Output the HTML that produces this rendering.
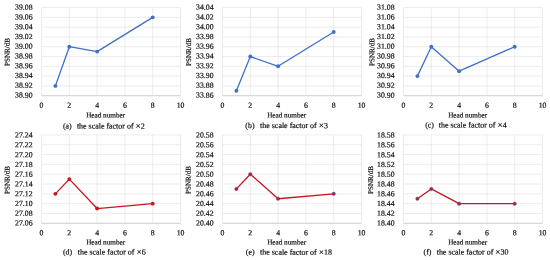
<!DOCTYPE html>
<html><head><meta charset="utf-8"><title>PSNR vs head number</title>
<style>html,body{margin:0;padding:0;background:#fff}svg{display:block}text{text-rendering:geometricPrecision;font-family:"Liberation Serif",serif;fill:#111;stroke:#111;stroke-width:0.2px}</style></head>
<body>
<svg width="550" height="260" viewBox="0 0 550 260">
<rect width="550" height="260" fill="#fff"/>
<g>
<line x1="41.50" y1="7.55" x2="180.50" y2="7.55" stroke="#DCDCDC" stroke-width="0.55"/>
<line x1="41.50" y1="17.34" x2="180.50" y2="17.34" stroke="#DCDCDC" stroke-width="0.55"/>
<line x1="41.50" y1="27.14" x2="180.50" y2="27.14" stroke="#DCDCDC" stroke-width="0.55"/>
<line x1="41.50" y1="36.93" x2="180.50" y2="36.93" stroke="#DCDCDC" stroke-width="0.55"/>
<line x1="41.50" y1="46.73" x2="180.50" y2="46.73" stroke="#DCDCDC" stroke-width="0.55"/>
<line x1="41.50" y1="56.52" x2="180.50" y2="56.52" stroke="#DCDCDC" stroke-width="0.55"/>
<line x1="41.50" y1="66.32" x2="180.50" y2="66.32" stroke="#DCDCDC" stroke-width="0.55"/>
<line x1="41.50" y1="76.11" x2="180.50" y2="76.11" stroke="#DCDCDC" stroke-width="0.55"/>
<line x1="41.50" y1="85.91" x2="180.50" y2="85.91" stroke="#DCDCDC" stroke-width="0.55"/>
<line x1="41.50" y1="95.70" x2="180.50" y2="95.70" stroke="#DCDCDC" stroke-width="0.55"/>
<line x1="41.50" y1="95.70" x2="180.50" y2="95.70" stroke="#CFCFCF" stroke-width="0.9"/>
<line x1="41.50" y1="7.55" x2="41.50" y2="95.70" stroke="#DCDCDC" stroke-width="0.55"/>
<line x1="69.30" y1="7.55" x2="69.30" y2="95.70" stroke="#DCDCDC" stroke-width="0.55"/>
<line x1="97.10" y1="7.55" x2="97.10" y2="95.70" stroke="#DCDCDC" stroke-width="0.55"/>
<line x1="124.90" y1="7.55" x2="124.90" y2="95.70" stroke="#DCDCDC" stroke-width="0.55"/>
<line x1="152.70" y1="7.55" x2="152.70" y2="95.70" stroke="#DCDCDC" stroke-width="0.55"/>
<line x1="180.50" y1="7.55" x2="180.50" y2="95.70" stroke="#DCDCDC" stroke-width="0.55"/>
<text transform="matrix(1,0.002,0,1,32.50,9.65)" font-size="7.75" text-anchor="end">39.08</text>
<text transform="matrix(1,0.002,0,1,32.50,19.43)" font-size="7.75" text-anchor="end">39.06</text>
<text transform="matrix(1,0.002,0,1,32.50,29.21)" font-size="7.75" text-anchor="end">39.04</text>
<text transform="matrix(1,0.002,0,1,32.50,38.98)" font-size="7.75" text-anchor="end">39.02</text>
<text transform="matrix(1,0.002,0,1,32.50,48.76)" font-size="7.75" text-anchor="end">39.00</text>
<text transform="matrix(1,0.002,0,1,32.50,58.54)" font-size="7.75" text-anchor="end">38.98</text>
<text transform="matrix(1,0.002,0,1,32.50,68.32)" font-size="7.75" text-anchor="end">38.96</text>
<text transform="matrix(1,0.002,0,1,32.50,78.10)" font-size="7.75" text-anchor="end">38.94</text>
<text transform="matrix(1,0.002,0,1,32.50,87.87)" font-size="7.75" text-anchor="end">38.92</text>
<text transform="matrix(1,0.002,0,1,32.50,97.65)" font-size="7.75" text-anchor="end">38.90</text>
<text transform="matrix(1,0.002,0,1,41.50,107.70)" font-size="7.75" text-anchor="middle">0</text>
<text transform="matrix(1,0.002,0,1,69.30,107.70)" font-size="7.75" text-anchor="middle">2</text>
<text transform="matrix(1,0.002,0,1,97.10,107.70)" font-size="7.75" text-anchor="middle">4</text>
<text transform="matrix(1,0.002,0,1,124.90,107.70)" font-size="7.75" text-anchor="middle">6</text>
<text transform="matrix(1,0.002,0,1,152.70,107.70)" font-size="7.75" text-anchor="middle">8</text>
<text transform="matrix(1,0.002,0,1,180.50,107.70)" font-size="7.75" text-anchor="middle">10</text>
<text transform="matrix(1,0.002,0,1,105.60,117.50)" font-size="7.2" text-anchor="middle">Head number</text>
<text transform="matrix(1,0.002,0,1,62.90,128.50)" font-size="7.95">(a)</text>
<text transform="matrix(1,0.002,0,1,76.90,128.50)" font-size="7.95">the scale factor of <tspan font-size="9.3" dy="0.45">×</tspan><tspan dy="-0.45">2</tspan></text>
<text transform="matrix(0.002,-1,1,0,9.60,51.90)" font-size="7.1" text-anchor="middle">PSNR/dB</text>
<polyline fill="none" stroke="#4070C6" stroke-width="1.3" stroke-linejoin="round" points="55.40,85.91 69.30,46.73 97.10,51.62 152.70,17.34"/>
<circle cx="55.40" cy="85.91" r="1.95" fill="#4070C6"/>
<circle cx="69.30" cy="46.73" r="1.95" fill="#4070C6"/>
<circle cx="97.10" cy="51.62" r="1.95" fill="#4070C6"/>
<circle cx="152.70" cy="17.34" r="1.95" fill="#4070C6"/>
</g>
<g>
<line x1="222.50" y1="7.55" x2="361.50" y2="7.55" stroke="#DCDCDC" stroke-width="0.55"/>
<line x1="222.50" y1="17.34" x2="361.50" y2="17.34" stroke="#DCDCDC" stroke-width="0.55"/>
<line x1="222.50" y1="27.14" x2="361.50" y2="27.14" stroke="#DCDCDC" stroke-width="0.55"/>
<line x1="222.50" y1="36.93" x2="361.50" y2="36.93" stroke="#DCDCDC" stroke-width="0.55"/>
<line x1="222.50" y1="46.73" x2="361.50" y2="46.73" stroke="#DCDCDC" stroke-width="0.55"/>
<line x1="222.50" y1="56.52" x2="361.50" y2="56.52" stroke="#DCDCDC" stroke-width="0.55"/>
<line x1="222.50" y1="66.32" x2="361.50" y2="66.32" stroke="#DCDCDC" stroke-width="0.55"/>
<line x1="222.50" y1="76.11" x2="361.50" y2="76.11" stroke="#DCDCDC" stroke-width="0.55"/>
<line x1="222.50" y1="85.91" x2="361.50" y2="85.91" stroke="#DCDCDC" stroke-width="0.55"/>
<line x1="222.50" y1="95.70" x2="361.50" y2="95.70" stroke="#DCDCDC" stroke-width="0.55"/>
<line x1="222.50" y1="95.70" x2="361.50" y2="95.70" stroke="#CFCFCF" stroke-width="0.9"/>
<line x1="222.50" y1="7.55" x2="222.50" y2="95.70" stroke="#DCDCDC" stroke-width="0.55"/>
<line x1="250.30" y1="7.55" x2="250.30" y2="95.70" stroke="#DCDCDC" stroke-width="0.55"/>
<line x1="278.10" y1="7.55" x2="278.10" y2="95.70" stroke="#DCDCDC" stroke-width="0.55"/>
<line x1="305.90" y1="7.55" x2="305.90" y2="95.70" stroke="#DCDCDC" stroke-width="0.55"/>
<line x1="333.70" y1="7.55" x2="333.70" y2="95.70" stroke="#DCDCDC" stroke-width="0.55"/>
<line x1="361.50" y1="7.55" x2="361.50" y2="95.70" stroke="#DCDCDC" stroke-width="0.55"/>
<text transform="matrix(1,0.002,0,1,213.50,9.65)" font-size="7.75" text-anchor="end">34.04</text>
<text transform="matrix(1,0.002,0,1,213.50,19.43)" font-size="7.75" text-anchor="end">34.02</text>
<text transform="matrix(1,0.002,0,1,213.50,29.21)" font-size="7.75" text-anchor="end">34.00</text>
<text transform="matrix(1,0.002,0,1,213.50,38.98)" font-size="7.75" text-anchor="end">33.98</text>
<text transform="matrix(1,0.002,0,1,213.50,48.76)" font-size="7.75" text-anchor="end">33.96</text>
<text transform="matrix(1,0.002,0,1,213.50,58.54)" font-size="7.75" text-anchor="end">33.94</text>
<text transform="matrix(1,0.002,0,1,213.50,68.32)" font-size="7.75" text-anchor="end">33.92</text>
<text transform="matrix(1,0.002,0,1,213.50,78.10)" font-size="7.75" text-anchor="end">33.90</text>
<text transform="matrix(1,0.002,0,1,213.50,87.87)" font-size="7.75" text-anchor="end">33.88</text>
<text transform="matrix(1,0.002,0,1,213.50,97.65)" font-size="7.75" text-anchor="end">33.86</text>
<text transform="matrix(1,0.002,0,1,222.50,107.70)" font-size="7.75" text-anchor="middle">0</text>
<text transform="matrix(1,0.002,0,1,250.30,107.70)" font-size="7.75" text-anchor="middle">2</text>
<text transform="matrix(1,0.002,0,1,278.10,107.70)" font-size="7.75" text-anchor="middle">4</text>
<text transform="matrix(1,0.002,0,1,305.90,107.70)" font-size="7.75" text-anchor="middle">6</text>
<text transform="matrix(1,0.002,0,1,333.70,107.70)" font-size="7.75" text-anchor="middle">8</text>
<text transform="matrix(1,0.002,0,1,361.50,107.70)" font-size="7.75" text-anchor="middle">10</text>
<text transform="matrix(1,0.002,0,1,286.60,117.50)" font-size="7.2" text-anchor="middle">Head number</text>
<text transform="matrix(1,0.002,0,1,245.30,128.00)" font-size="7.95">(b)</text>
<text transform="matrix(1,0.002,0,1,260.10,128.00)" font-size="7.95">the scale factor of <tspan font-size="9.3" dy="0.45">×</tspan><tspan dy="-0.45">3</tspan></text>
<text transform="matrix(0.002,-1,1,0,191.00,51.90)" font-size="7.1" text-anchor="middle">PSNR/dB</text>
<polyline fill="none" stroke="#4070C6" stroke-width="1.3" stroke-linejoin="round" points="236.40,90.80 250.30,56.52 278.10,66.32 333.70,32.04"/>
<circle cx="236.40" cy="90.80" r="1.95" fill="#4070C6"/>
<circle cx="250.30" cy="56.52" r="1.95" fill="#4070C6"/>
<circle cx="278.10" cy="66.32" r="1.95" fill="#4070C6"/>
<circle cx="333.70" cy="32.04" r="1.95" fill="#4070C6"/>
</g>
<g>
<line x1="403.50" y1="7.55" x2="542.50" y2="7.55" stroke="#DCDCDC" stroke-width="0.55"/>
<line x1="403.50" y1="17.34" x2="542.50" y2="17.34" stroke="#DCDCDC" stroke-width="0.55"/>
<line x1="403.50" y1="27.14" x2="542.50" y2="27.14" stroke="#DCDCDC" stroke-width="0.55"/>
<line x1="403.50" y1="36.93" x2="542.50" y2="36.93" stroke="#DCDCDC" stroke-width="0.55"/>
<line x1="403.50" y1="46.73" x2="542.50" y2="46.73" stroke="#DCDCDC" stroke-width="0.55"/>
<line x1="403.50" y1="56.52" x2="542.50" y2="56.52" stroke="#DCDCDC" stroke-width="0.55"/>
<line x1="403.50" y1="66.32" x2="542.50" y2="66.32" stroke="#DCDCDC" stroke-width="0.55"/>
<line x1="403.50" y1="76.11" x2="542.50" y2="76.11" stroke="#DCDCDC" stroke-width="0.55"/>
<line x1="403.50" y1="85.91" x2="542.50" y2="85.91" stroke="#DCDCDC" stroke-width="0.55"/>
<line x1="403.50" y1="95.70" x2="542.50" y2="95.70" stroke="#DCDCDC" stroke-width="0.55"/>
<line x1="403.50" y1="95.70" x2="542.50" y2="95.70" stroke="#CFCFCF" stroke-width="0.9"/>
<line x1="403.50" y1="7.55" x2="403.50" y2="95.70" stroke="#DCDCDC" stroke-width="0.55"/>
<line x1="431.30" y1="7.55" x2="431.30" y2="95.70" stroke="#DCDCDC" stroke-width="0.55"/>
<line x1="459.10" y1="7.55" x2="459.10" y2="95.70" stroke="#DCDCDC" stroke-width="0.55"/>
<line x1="486.90" y1="7.55" x2="486.90" y2="95.70" stroke="#DCDCDC" stroke-width="0.55"/>
<line x1="514.70" y1="7.55" x2="514.70" y2="95.70" stroke="#DCDCDC" stroke-width="0.55"/>
<line x1="542.50" y1="7.55" x2="542.50" y2="95.70" stroke="#DCDCDC" stroke-width="0.55"/>
<text transform="matrix(1,0.002,0,1,394.50,9.65)" font-size="7.75" text-anchor="end">31.08</text>
<text transform="matrix(1,0.002,0,1,394.50,19.43)" font-size="7.75" text-anchor="end">31.06</text>
<text transform="matrix(1,0.002,0,1,394.50,29.21)" font-size="7.75" text-anchor="end">31.04</text>
<text transform="matrix(1,0.002,0,1,394.50,38.98)" font-size="7.75" text-anchor="end">31.02</text>
<text transform="matrix(1,0.002,0,1,394.50,48.76)" font-size="7.75" text-anchor="end">31.00</text>
<text transform="matrix(1,0.002,0,1,394.50,58.54)" font-size="7.75" text-anchor="end">30.98</text>
<text transform="matrix(1,0.002,0,1,394.50,68.32)" font-size="7.75" text-anchor="end">30.96</text>
<text transform="matrix(1,0.002,0,1,394.50,78.10)" font-size="7.75" text-anchor="end">30.94</text>
<text transform="matrix(1,0.002,0,1,394.50,87.87)" font-size="7.75" text-anchor="end">30.92</text>
<text transform="matrix(1,0.002,0,1,394.50,97.65)" font-size="7.75" text-anchor="end">30.90</text>
<text transform="matrix(1,0.002,0,1,403.50,107.70)" font-size="7.75" text-anchor="middle">0</text>
<text transform="matrix(1,0.002,0,1,431.30,107.70)" font-size="7.75" text-anchor="middle">2</text>
<text transform="matrix(1,0.002,0,1,459.10,107.70)" font-size="7.75" text-anchor="middle">4</text>
<text transform="matrix(1,0.002,0,1,486.90,107.70)" font-size="7.75" text-anchor="middle">6</text>
<text transform="matrix(1,0.002,0,1,514.70,107.70)" font-size="7.75" text-anchor="middle">8</text>
<text transform="matrix(1,0.002,0,1,542.50,107.70)" font-size="7.75" text-anchor="middle">10</text>
<text transform="matrix(1,0.002,0,1,467.60,117.50)" font-size="7.2" text-anchor="middle">Head number</text>
<text transform="matrix(1,0.002,0,1,425.20,127.50)" font-size="7.95">(c)</text>
<text transform="matrix(1,0.002,0,1,438.80,127.50)" font-size="7.95">the scale factor of <tspan font-size="9.3" dy="0.45">×</tspan><tspan dy="-0.45">4</tspan></text>
<text transform="matrix(0.002,-1,1,0,374.20,51.90)" font-size="7.1" text-anchor="middle">PSNR/dB</text>
<polyline fill="none" stroke="#4070C6" stroke-width="1.3" stroke-linejoin="round" points="417.40,76.11 431.30,46.73 459.10,71.21 514.70,46.73"/>
<circle cx="417.40" cy="76.11" r="1.95" fill="#4070C6"/>
<circle cx="431.30" cy="46.73" r="1.95" fill="#4070C6"/>
<circle cx="459.10" cy="71.21" r="1.95" fill="#4070C6"/>
<circle cx="514.70" cy="46.73" r="1.95" fill="#4070C6"/>
</g>
<g>
<line x1="41.50" y1="134.90" x2="180.50" y2="134.90" stroke="#DCDCDC" stroke-width="0.55"/>
<line x1="41.50" y1="144.72" x2="180.50" y2="144.72" stroke="#DCDCDC" stroke-width="0.55"/>
<line x1="41.50" y1="154.54" x2="180.50" y2="154.54" stroke="#DCDCDC" stroke-width="0.55"/>
<line x1="41.50" y1="164.37" x2="180.50" y2="164.37" stroke="#DCDCDC" stroke-width="0.55"/>
<line x1="41.50" y1="174.19" x2="180.50" y2="174.19" stroke="#DCDCDC" stroke-width="0.55"/>
<line x1="41.50" y1="184.01" x2="180.50" y2="184.01" stroke="#DCDCDC" stroke-width="0.55"/>
<line x1="41.50" y1="193.83" x2="180.50" y2="193.83" stroke="#DCDCDC" stroke-width="0.55"/>
<line x1="41.50" y1="203.66" x2="180.50" y2="203.66" stroke="#DCDCDC" stroke-width="0.55"/>
<line x1="41.50" y1="213.48" x2="180.50" y2="213.48" stroke="#DCDCDC" stroke-width="0.55"/>
<line x1="41.50" y1="223.30" x2="180.50" y2="223.30" stroke="#DCDCDC" stroke-width="0.55"/>
<line x1="41.50" y1="223.30" x2="180.50" y2="223.30" stroke="#CFCFCF" stroke-width="0.9"/>
<line x1="41.50" y1="134.90" x2="41.50" y2="223.30" stroke="#DCDCDC" stroke-width="0.55"/>
<line x1="69.30" y1="134.90" x2="69.30" y2="223.30" stroke="#DCDCDC" stroke-width="0.55"/>
<line x1="97.10" y1="134.90" x2="97.10" y2="223.30" stroke="#DCDCDC" stroke-width="0.55"/>
<line x1="124.90" y1="134.90" x2="124.90" y2="223.30" stroke="#DCDCDC" stroke-width="0.55"/>
<line x1="152.70" y1="134.90" x2="152.70" y2="223.30" stroke="#DCDCDC" stroke-width="0.55"/>
<line x1="180.50" y1="134.90" x2="180.50" y2="223.30" stroke="#DCDCDC" stroke-width="0.55"/>
<text transform="matrix(1,0.002,0,1,32.50,137.60)" font-size="7.75" text-anchor="end">27.24</text>
<text transform="matrix(1,0.002,0,1,32.50,147.38)" font-size="7.75" text-anchor="end">27.22</text>
<text transform="matrix(1,0.002,0,1,32.50,157.16)" font-size="7.75" text-anchor="end">27.20</text>
<text transform="matrix(1,0.002,0,1,32.50,166.93)" font-size="7.75" text-anchor="end">27.18</text>
<text transform="matrix(1,0.002,0,1,32.50,176.71)" font-size="7.75" text-anchor="end">27.16</text>
<text transform="matrix(1,0.002,0,1,32.50,186.49)" font-size="7.75" text-anchor="end">27.14</text>
<text transform="matrix(1,0.002,0,1,32.50,196.27)" font-size="7.75" text-anchor="end">27.12</text>
<text transform="matrix(1,0.002,0,1,32.50,206.05)" font-size="7.75" text-anchor="end">27.10</text>
<text transform="matrix(1,0.002,0,1,32.50,215.82)" font-size="7.75" text-anchor="end">27.08</text>
<text transform="matrix(1,0.002,0,1,32.50,225.60)" font-size="7.75" text-anchor="end">27.06</text>
<text transform="matrix(1,0.002,0,1,41.50,235.25)" font-size="7.75" text-anchor="middle">0</text>
<text transform="matrix(1,0.002,0,1,69.30,235.25)" font-size="7.75" text-anchor="middle">2</text>
<text transform="matrix(1,0.002,0,1,97.10,235.25)" font-size="7.75" text-anchor="middle">4</text>
<text transform="matrix(1,0.002,0,1,124.90,235.25)" font-size="7.75" text-anchor="middle">6</text>
<text transform="matrix(1,0.002,0,1,152.70,235.25)" font-size="7.75" text-anchor="middle">8</text>
<text transform="matrix(1,0.002,0,1,180.50,235.25)" font-size="7.75" text-anchor="middle">10</text>
<text transform="matrix(1,0.002,0,1,105.60,244.60)" font-size="7.2" text-anchor="middle">Head number</text>
<text transform="matrix(1,0.002,0,1,62.90,254.40)" font-size="7.95">(d)</text>
<text transform="matrix(1,0.002,0,1,77.80,254.40)" font-size="7.95">the scale factor of <tspan font-size="9.3" dy="0.45">×</tspan><tspan dy="-0.45">6</tspan></text>
<text transform="matrix(0.002,-1,1,0,9.60,179.90)" font-size="7.1" text-anchor="middle">PSNR/dB</text>
<polyline fill="none" stroke="#C8151E" stroke-width="1.3" stroke-linejoin="round" points="55.40,193.83 69.30,179.10 97.10,208.57 152.70,203.66"/>
<circle cx="55.40" cy="193.83" r="1.95" fill="#C8151E"/>
<circle cx="69.30" cy="179.10" r="1.95" fill="#C8151E"/>
<circle cx="97.10" cy="208.57" r="1.95" fill="#C8151E"/>
<circle cx="152.70" cy="203.66" r="1.95" fill="#C8151E"/>
</g>
<g>
<line x1="222.50" y1="134.90" x2="361.50" y2="134.90" stroke="#DCDCDC" stroke-width="0.55"/>
<line x1="222.50" y1="144.72" x2="361.50" y2="144.72" stroke="#DCDCDC" stroke-width="0.55"/>
<line x1="222.50" y1="154.54" x2="361.50" y2="154.54" stroke="#DCDCDC" stroke-width="0.55"/>
<line x1="222.50" y1="164.37" x2="361.50" y2="164.37" stroke="#DCDCDC" stroke-width="0.55"/>
<line x1="222.50" y1="174.19" x2="361.50" y2="174.19" stroke="#DCDCDC" stroke-width="0.55"/>
<line x1="222.50" y1="184.01" x2="361.50" y2="184.01" stroke="#DCDCDC" stroke-width="0.55"/>
<line x1="222.50" y1="193.83" x2="361.50" y2="193.83" stroke="#DCDCDC" stroke-width="0.55"/>
<line x1="222.50" y1="203.66" x2="361.50" y2="203.66" stroke="#DCDCDC" stroke-width="0.55"/>
<line x1="222.50" y1="213.48" x2="361.50" y2="213.48" stroke="#DCDCDC" stroke-width="0.55"/>
<line x1="222.50" y1="223.30" x2="361.50" y2="223.30" stroke="#DCDCDC" stroke-width="0.55"/>
<line x1="222.50" y1="223.30" x2="361.50" y2="223.30" stroke="#CFCFCF" stroke-width="0.9"/>
<line x1="222.50" y1="134.90" x2="222.50" y2="223.30" stroke="#DCDCDC" stroke-width="0.55"/>
<line x1="250.30" y1="134.90" x2="250.30" y2="223.30" stroke="#DCDCDC" stroke-width="0.55"/>
<line x1="278.10" y1="134.90" x2="278.10" y2="223.30" stroke="#DCDCDC" stroke-width="0.55"/>
<line x1="305.90" y1="134.90" x2="305.90" y2="223.30" stroke="#DCDCDC" stroke-width="0.55"/>
<line x1="333.70" y1="134.90" x2="333.70" y2="223.30" stroke="#DCDCDC" stroke-width="0.55"/>
<line x1="361.50" y1="134.90" x2="361.50" y2="223.30" stroke="#DCDCDC" stroke-width="0.55"/>
<text transform="matrix(1,0.002,0,1,213.50,137.60)" font-size="7.75" text-anchor="end">20.58</text>
<text transform="matrix(1,0.002,0,1,213.50,147.38)" font-size="7.75" text-anchor="end">20.56</text>
<text transform="matrix(1,0.002,0,1,213.50,157.16)" font-size="7.75" text-anchor="end">20.54</text>
<text transform="matrix(1,0.002,0,1,213.50,166.93)" font-size="7.75" text-anchor="end">20.52</text>
<text transform="matrix(1,0.002,0,1,213.50,176.71)" font-size="7.75" text-anchor="end">20.50</text>
<text transform="matrix(1,0.002,0,1,213.50,186.49)" font-size="7.75" text-anchor="end">20.48</text>
<text transform="matrix(1,0.002,0,1,213.50,196.27)" font-size="7.75" text-anchor="end">20.46</text>
<text transform="matrix(1,0.002,0,1,213.50,206.05)" font-size="7.75" text-anchor="end">20.44</text>
<text transform="matrix(1,0.002,0,1,213.50,215.82)" font-size="7.75" text-anchor="end">20.42</text>
<text transform="matrix(1,0.002,0,1,213.50,225.60)" font-size="7.75" text-anchor="end">20.40</text>
<text transform="matrix(1,0.002,0,1,222.50,235.25)" font-size="7.75" text-anchor="middle">0</text>
<text transform="matrix(1,0.002,0,1,250.30,235.25)" font-size="7.75" text-anchor="middle">2</text>
<text transform="matrix(1,0.002,0,1,278.10,235.25)" font-size="7.75" text-anchor="middle">4</text>
<text transform="matrix(1,0.002,0,1,305.90,235.25)" font-size="7.75" text-anchor="middle">6</text>
<text transform="matrix(1,0.002,0,1,333.70,235.25)" font-size="7.75" text-anchor="middle">8</text>
<text transform="matrix(1,0.002,0,1,361.50,235.25)" font-size="7.75" text-anchor="middle">10</text>
<text transform="matrix(1,0.002,0,1,286.60,244.60)" font-size="7.2" text-anchor="middle">Head number</text>
<text transform="matrix(1,0.002,0,1,245.80,254.60)" font-size="7.95">(e)</text>
<text transform="matrix(1,0.002,0,1,260.10,254.60)" font-size="7.95">the scale factor of <tspan font-size="9.3" dy="0.45">×</tspan><tspan dy="-0.45">18</tspan></text>
<text transform="matrix(0.002,-1,1,0,190.60,179.90)" font-size="7.1" text-anchor="middle">PSNR/dB</text>
<polyline fill="none" stroke="#C8151E" stroke-width="1.3" stroke-linejoin="round" points="236.40,188.92 250.30,174.19 278.10,198.74 333.70,193.83"/>
<circle cx="236.40" cy="188.92" r="1.75" fill="#C8151E" stroke="#4070C6" stroke-width="0.5"/>
<circle cx="250.30" cy="174.19" r="1.75" fill="#C8151E" stroke="#4070C6" stroke-width="0.5"/>
<circle cx="278.10" cy="198.74" r="1.75" fill="#C8151E" stroke="#4070C6" stroke-width="0.5"/>
<circle cx="333.70" cy="193.83" r="1.75" fill="#C8151E" stroke="#4070C6" stroke-width="0.5"/>
</g>
<g>
<line x1="403.50" y1="134.90" x2="542.50" y2="134.90" stroke="#DCDCDC" stroke-width="0.55"/>
<line x1="403.50" y1="144.72" x2="542.50" y2="144.72" stroke="#DCDCDC" stroke-width="0.55"/>
<line x1="403.50" y1="154.54" x2="542.50" y2="154.54" stroke="#DCDCDC" stroke-width="0.55"/>
<line x1="403.50" y1="164.37" x2="542.50" y2="164.37" stroke="#DCDCDC" stroke-width="0.55"/>
<line x1="403.50" y1="174.19" x2="542.50" y2="174.19" stroke="#DCDCDC" stroke-width="0.55"/>
<line x1="403.50" y1="184.01" x2="542.50" y2="184.01" stroke="#DCDCDC" stroke-width="0.55"/>
<line x1="403.50" y1="193.83" x2="542.50" y2="193.83" stroke="#DCDCDC" stroke-width="0.55"/>
<line x1="403.50" y1="203.66" x2="542.50" y2="203.66" stroke="#DCDCDC" stroke-width="0.55"/>
<line x1="403.50" y1="213.48" x2="542.50" y2="213.48" stroke="#DCDCDC" stroke-width="0.55"/>
<line x1="403.50" y1="223.30" x2="542.50" y2="223.30" stroke="#DCDCDC" stroke-width="0.55"/>
<line x1="403.50" y1="223.30" x2="542.50" y2="223.30" stroke="#CFCFCF" stroke-width="0.9"/>
<line x1="403.50" y1="134.90" x2="403.50" y2="223.30" stroke="#DCDCDC" stroke-width="0.55"/>
<line x1="431.30" y1="134.90" x2="431.30" y2="223.30" stroke="#DCDCDC" stroke-width="0.55"/>
<line x1="459.10" y1="134.90" x2="459.10" y2="223.30" stroke="#DCDCDC" stroke-width="0.55"/>
<line x1="486.90" y1="134.90" x2="486.90" y2="223.30" stroke="#DCDCDC" stroke-width="0.55"/>
<line x1="514.70" y1="134.90" x2="514.70" y2="223.30" stroke="#DCDCDC" stroke-width="0.55"/>
<line x1="542.50" y1="134.90" x2="542.50" y2="223.30" stroke="#DCDCDC" stroke-width="0.55"/>
<text transform="matrix(1,0.002,0,1,394.50,137.60)" font-size="7.75" text-anchor="end">18.58</text>
<text transform="matrix(1,0.002,0,1,394.50,147.38)" font-size="7.75" text-anchor="end">18.56</text>
<text transform="matrix(1,0.002,0,1,394.50,157.16)" font-size="7.75" text-anchor="end">18.54</text>
<text transform="matrix(1,0.002,0,1,394.50,166.93)" font-size="7.75" text-anchor="end">18.52</text>
<text transform="matrix(1,0.002,0,1,394.50,176.71)" font-size="7.75" text-anchor="end">18.50</text>
<text transform="matrix(1,0.002,0,1,394.50,186.49)" font-size="7.75" text-anchor="end">18.48</text>
<text transform="matrix(1,0.002,0,1,394.50,196.27)" font-size="7.75" text-anchor="end">18.46</text>
<text transform="matrix(1,0.002,0,1,394.50,206.05)" font-size="7.75" text-anchor="end">18.44</text>
<text transform="matrix(1,0.002,0,1,394.50,215.82)" font-size="7.75" text-anchor="end">18.42</text>
<text transform="matrix(1,0.002,0,1,394.50,225.60)" font-size="7.75" text-anchor="end">18.40</text>
<text transform="matrix(1,0.002,0,1,403.50,235.25)" font-size="7.75" text-anchor="middle">0</text>
<text transform="matrix(1,0.002,0,1,431.30,235.25)" font-size="7.75" text-anchor="middle">2</text>
<text transform="matrix(1,0.002,0,1,459.10,235.25)" font-size="7.75" text-anchor="middle">4</text>
<text transform="matrix(1,0.002,0,1,486.90,235.25)" font-size="7.75" text-anchor="middle">6</text>
<text transform="matrix(1,0.002,0,1,514.70,235.25)" font-size="7.75" text-anchor="middle">8</text>
<text transform="matrix(1,0.002,0,1,542.50,235.25)" font-size="7.75" text-anchor="middle">10</text>
<text transform="matrix(1,0.002,0,1,467.60,244.60)" font-size="7.2" text-anchor="middle">Head number</text>
<text transform="matrix(1,0.002,0,1,423.50,254.40)" font-size="7.95">(f)</text>
<text transform="matrix(1,0.002,0,1,436.70,254.40)" font-size="7.95">the scale factor of <tspan font-size="9.3" dy="0.45">×</tspan><tspan dy="-0.45">30</tspan></text>
<text transform="matrix(0.002,-1,1,0,373.10,179.90)" font-size="7.1" text-anchor="middle">PSNR/dB</text>
<polyline fill="none" stroke="#C8151E" stroke-width="1.3" stroke-linejoin="round" points="417.40,198.74 431.30,188.92 459.10,203.66 514.70,203.66"/>
<circle cx="417.40" cy="198.74" r="1.75" fill="#C8151E" stroke="#4070C6" stroke-width="0.5"/>
<circle cx="431.30" cy="188.92" r="1.75" fill="#C8151E" stroke="#4070C6" stroke-width="0.5"/>
<circle cx="459.10" cy="203.66" r="1.75" fill="#C8151E" stroke="#4070C6" stroke-width="0.5"/>
<circle cx="514.70" cy="203.66" r="1.75" fill="#C8151E" stroke="#4070C6" stroke-width="0.5"/>
</g>
</svg>
</body></html>
